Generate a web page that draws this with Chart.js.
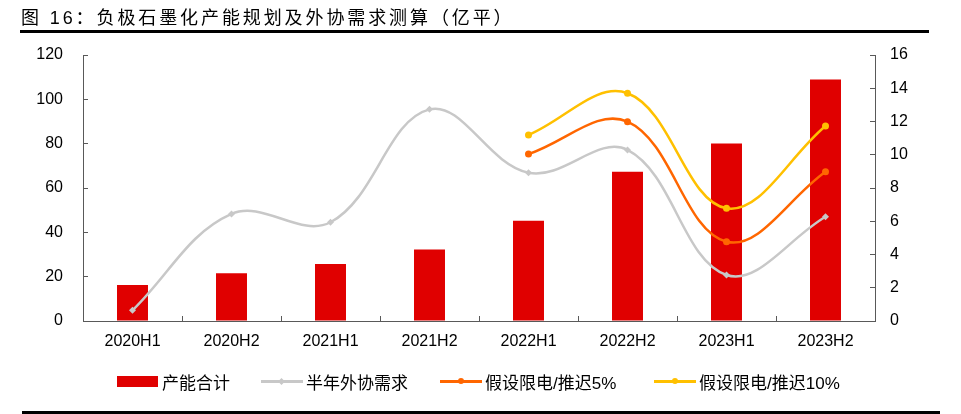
<!DOCTYPE html>
<html>
<head>
<meta charset="utf-8">
<script src="https://cdn.jsdelivr.net/npm/chart.js@4.4.1/dist/chart.umd.min.js"></script>
<style>
  html, body { margin: 0; padding: 0; background: #fff; }
  #wrap { position: relative; width: 961px; height: 414px; overflow: hidden; }
  #wrap canvas { position: absolute; left: 0; top: 0; }
  .ov { position: absolute; pointer-events: none; }
  #title { left: 21px; top: 3px; font: 18px "Liberation Sans", "Noto Sans CJK SC", sans-serif; letter-spacing: 2.9px; color: #000; white-space: nowrap; }
  #tline { left: 20px; top: 30px; width: 909px; height: 3px; background: #000; }
  #bline { left: 22px; top: 411px; width: 918px; height: 3px; background: #000; }
  .leg { position: absolute; top: 370px; height: 22px; display: flex; align-items: center; font: 17px "Liberation Sans", "Noto Sans CJK SC", sans-serif; color: #000; white-space: nowrap; }
  .sw { position: relative; width: 42px; height: 22px; margin-right: 3px; }
  .box { position: absolute; left: 0; top: 6px; width: 41px; height: 11px; }
  .ln { position: absolute; left: 0; top: 10px; width: 42px; height: 3px; }
  .mk { position: absolute; left: 18px; top: 8px; width: 6px; height: 6px; border-radius: 50%; }
</style>
</head>
<body>
<div id="wrap">
  <canvas id="c" width="961" height="414"></canvas>
  <div id="title" class="ov">图 16：负极石墨化产能规划及外协需求测算（亿平）</div>
  <div id="tline" class="ov"></div>
  <div id="bline" class="ov"></div>
  <div id="legend"></div>
</div>
<script>
const categories = ['2020H1', '2020H2', '2021H1', '2021H2', '2022H1', '2022H2', '2023H1', '2023H2'];
const capacity = [16.2, 21.5, 25.7, 32.3, 45.2, 67.3, 80.1, 109.0];
const demand = [0.64, 6.44, 5.94, 12.73, 8.92, 10.29, 2.77, 6.27];
const limit5 = [null, null, null, null, 10.04, 11.99, 4.77, 8.98];
const limit10 = [null, null, null, null, 11.19, 13.7, 6.78, 11.73];
const seriesNames = ['产能合计', '半年外协需求', '假设限电/推迟5%', '假设限电/推迟10%'];
const leftTicks = [0, 20, 40, 60, 80, 100, 120];
const rightTicks = [0, 2, 4, 6, 8, 10, 12, 14, 16];

const RED = '#E00000', GRAY = '#C8C8C8', ORANGE = '#FF6600', YELLOW = '#FFC000';
const AXIS = '#595959';

Chart.defaults.font.family = '"Liberation Sans", Arial, sans-serif';
Chart.defaults.font.size = 16;
Chart.defaults.color = '#000';

const gridOpts = { display: true, drawOnChartArea: false, drawTicks: true, tickLength: -5, color: AXIS, lineWidth: 1 };
const borderOpts = { display: true, color: AXIS, width: 1 };

function lineDs(label, data, color, style, order) {
  return {
    type: 'line', label, data, yAxisID: 'y1', order,
    borderColor: color, backgroundColor: color, borderWidth: 2.5,
    pointStyle: style, pointRadius: 3.5, pointBorderWidth: 0, pointBackgroundColor: color,
    tension: 0.38, fill: false, spanGaps: false
  };
}

new Chart(document.getElementById('c'), {
  type: 'bar',
  data: {
    labels: categories,
    datasets: [
      { type: 'bar', label: seriesNames[0], data: capacity, backgroundColor: RED, yAxisID: 'y',
        order: 10, categoryPercentage: 1.0, barPercentage: 0.313 },
      lineDs(seriesNames[1], demand, GRAY, 'rectRot', 3),
      lineDs(seriesNames[2], limit5, ORANGE, 'circle', 2),
      lineDs(seriesNames[3], limit10, YELLOW, 'circle', 1)
    ]
  },
  options: {
    responsive: false,
    animation: false,
    events: [],
    layout: { padding: { top: 55, left: 0, right: 0, bottom: 0 } },
    plugins: { legend: { display: false }, tooltip: { enabled: false }, title: { display: false } },
    scales: {
      x: {
        type: 'category', offset: true,
        grid: Object.assign({}, gridOpts, { offset: true }),
        border: borderOpts,
        ticks: { padding: 16, maxRotation: 0, autoSkip: false },
        afterFit: s => { s.height = 93; }
      },
      y: {
        position: 'left', min: 0, max: 120,
        afterBuildTicks: s => { s.ticks = leftTicks.map(v => ({ value: v })); },
        grid: gridOpts, border: borderOpts,
        ticks: { padding: 25 },
        afterFit: s => { s.width = 83; }
      },
      y1: {
        position: 'right', min: 0, max: 16,
        afterBuildTicks: s => { s.ticks = rightTicks.map(v => ({ value: v })); },
        grid: gridOpts, border: borderOpts,
        ticks: { padding: 20 },
        afterFit: s => { s.width = 86; }
      }
    }
  }
});

// HTML legend
const legendItems = [
  { name: seriesNames[0], color: RED, kind: 'box', x: 117 },
  { name: seriesNames[1], color: GRAY, kind: 'line', mk: 'diamond', x: 261 },
  { name: seriesNames[2], color: ORANGE, kind: 'line', x: 440 },
  { name: seriesNames[3], color: YELLOW, kind: 'line', x: 654 }
];
const lg = document.getElementById('legend');
legendItems.forEach(it => {
  const d = document.createElement('div');
  d.className = 'leg';
  d.style.left = it.x + 'px';
  const sw = document.createElement('div');
  sw.className = 'sw';
  if (it.kind === 'box') {
    const b = document.createElement('div'); b.className = 'box'; b.style.background = it.color; sw.appendChild(b);
  } else {
    const l = document.createElement('div'); l.className = 'ln'; l.style.background = it.color; sw.appendChild(l);
    const m = document.createElement('div'); m.className = 'mk'; m.style.background = it.color;
    if (it.mk === 'diamond') { m.style.borderRadius = '0'; m.style.transform = 'rotate(45deg)'; m.style.width = '5px'; m.style.height = '5px'; m.style.left = '18px'; m.style.top = '8.5px'; }
    sw.appendChild(m);
  }
  d.appendChild(sw);
  const t = document.createElement('span'); t.textContent = it.name; d.appendChild(t);
  lg.appendChild(d);
});
</script>
</body>
</html>
